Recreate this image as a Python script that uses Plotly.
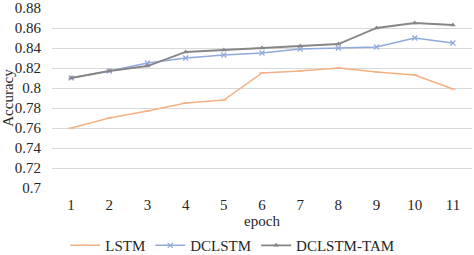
import plotly.graph_objects as go

epochs = [1, 2, 3, 4, 5, 6, 7, 8, 9, 10, 11]
lstm = [0.760, 0.770, 0.777, 0.785, 0.788, 0.815, 0.817, 0.820, 0.816, 0.813, 0.799]
dclstm = [0.810, 0.817, 0.825, 0.830, 0.833, 0.835, 0.839, 0.840, 0.841, 0.850, 0.845]
dclstm_tam = [0.810, 0.817, 0.822, 0.836, 0.838, 0.840, 0.842, 0.844, 0.860, 0.865, 0.863]
y_ticks = [0.7, 0.72, 0.74, 0.76, 0.78, 0.8, 0.82, 0.84, 0.86, 0.88]
y_labels = ["0.7", "0.72", "0.74", "0.76", "0.78", "0.8", "0.82", "0.84", "0.86", "0.88"]

font = "Liberation Serif, Times New Roman, serif"
fig = go.Figure()
fig.add_trace(go.Scatter(x=epochs, y=lstm, name="LSTM", mode="lines+markers",
                         line=dict(color="#F4B183", width=1.5),
                         marker=dict(symbol="line-ew", size=4, line=dict(color="#F4B183", width=1.2))))
fig.add_trace(go.Scatter(x=epochs, y=dclstm, name="DCLSTM", mode="lines+markers",
                         line=dict(color="#8FAADC", width=1.5),
                         marker=dict(symbol="x-thin", size=5, line=dict(color="#8FAADC", width=1.2))))
fig.add_trace(go.Scatter(x=epochs, y=dclstm_tam, name="DCLSTM-TAM", mode="lines+markers",
                         line=dict(color="#868686", width=1.8),
                         marker=dict(symbol="triangle-up", size=5, color="#868686")))

fig.update_layout(
    width=474, height=255,
    margin=dict(l=52, r=2, t=8, b=67, autoexpand=False),
    paper_bgcolor="white", plot_bgcolor="white",
    font=dict(family=font, size=15, color="#262626"),
    showlegend=True,
    legend=dict(orientation="h", x=0.49, xanchor="center", xref="container",
                y=0.037, yanchor="middle", yref="container",
                font=dict(family=font, size=15, color="#262626"), itemwidth=30,
                tracegroupgap=0, bgcolor="rgba(0,0,0,0)"),
)
fig.update_xaxes(range=[0.5, 11.5], tickvals=epochs, ticktext=[str(e) for e in epochs],
                 showgrid=False, zeroline=False, showline=False, ticks="",
                 ticklabelstandoff=6,
                 title=dict(text="epoch", standoff=4, font=dict(family=font, size=15)))
fig.update_yaxes(range=[0.7, 0.88], tickvals=y_ticks, ticktext=y_labels,
                 showgrid=True, gridcolor="#D9D9D9", gridwidth=1, zeroline=False,
                 showline=False, ticks="", ticklen=0, ticklabelstandoff=10,
                 title=dict(text="Accuracy", standoff=2, font=dict(family=font, size=15)))
fig.write_html("out.html")
